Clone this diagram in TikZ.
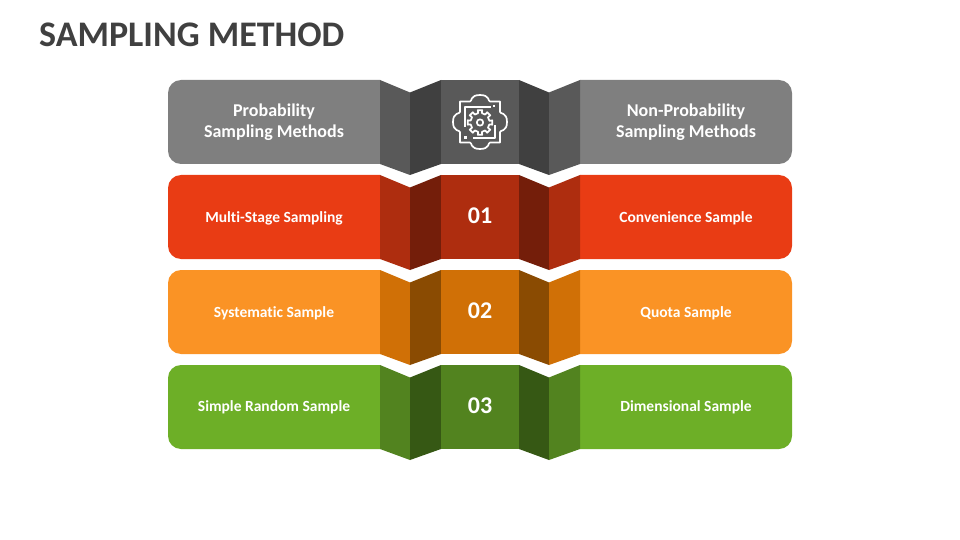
\documentclass[tikz,border=0pt]{standalone}
\usepackage{fontspec}
\setmainfont[Ligatures=NoCommon]{Carlito}
\definecolor{titlegray}{HTML}{404040}
\definecolor{grayA}{HTML}{7F7F7F}
\definecolor{grayB}{HTML}{595959}
\definecolor{grayC}{HTML}{404040}
\definecolor{redA}{HTML}{E93C14}
\definecolor{redB}{HTML}{AE2D0F}
\definecolor{redC}{HTML}{741E0A}
\definecolor{orangeA}{HTML}{FA9325}
\definecolor{orangeB}{HTML}{D07006}
\definecolor{orangeC}{HTML}{8A4B02}
\definecolor{greenA}{HTML}{6DAF27}
\definecolor{greenB}{HTML}{52831F}
\definecolor{greenC}{HTML}{365814}
\tikzset{
  headtext/.style={text=white,font=\bfseries\fontsize{18}{21}\selectfont,align=center},
  rowtext/.style={text=white,font=\bfseries\fontsize{15.5}{18}\selectfont},
  numtext/.style={text=white,font=\bfseries\fontsize{24}{28}\selectfont},
  iconline/.style={draw=white,line width=1.7pt,line join=round}
}
\begin{document}
\begin{tikzpicture}[x=1pt,y=-1pt]
  \useasboundingbox (0,0) rectangle (960,540);
  \node[anchor=west,inner sep=0pt,text=titlegray,font=\bfseries\fontsize{36}{42}\selectfont] (title) at (39,35) {SAMPLING METHOD};
  % one folded band per row
  \foreach \t/\base in {80/gray,175/red,270/orange,365/green} {
    \pgfmathsetmacro{\b}{\t+84}
    \pgfmathsetmacro{\tm}{\t+12.5}
    \pgfmathsetmacro{\bm}{\b+11}
    \fill[\base A] (380,\t) [rounded corners=13pt] -- (168,\t) -- (168,\b) [sharp corners] -- (380,\b) -- cycle;
    \fill[\base A] (580,\t) [rounded corners=13pt] -- (792,\t) -- (792,\b) [sharp corners] -- (580,\b) -- cycle;
    \fill[\base B] (380,\t) -- (410,\tm) -- (410,\bm) -- (380,\b) -- cycle;
    \fill[\base C] (410,\tm) -- (441,\t) -- (441,\b) -- (410,\bm) -- cycle;
    \fill[\base B] (441,\t) rectangle (519,\b);
    \fill[\base C] (519,\t) -- (549,\tm) -- (549,\bm) -- (519,\b) -- cycle;
    \fill[\base B] (549,\tm) -- (580,\t) -- (580,\b) -- (549,\bm) -- cycle;
  }
  % labels
  \node[headtext] (probhead) at (274,122) {Probability\\Sampling Methods};
  \node[headtext] (nonhead) at (686,122) {Non-Probability\\Sampling Methods};
  \node[rowtext] (left1) at (274,218) {Multi-Stage Sampling};
  \node[rowtext] (left2) at (274,313) {Systematic Sample};
  \node[rowtext] (left3) at (274,407) {Simple Random Sample};
  \node[rowtext] (right1) at (686,218) {Convenience Sample};
  \node[rowtext] (right2) at (686,313) {Quota Sample};
  \node[rowtext] (right3) at (686,407) {Dimensional Sample};
  \node[numtext] (num1) at (480,216) {01};
  \node[numtext] (num2) at (480,311) {02};
  \node[numtext] (num3) at (480,406) {03};
  % gear icon
  \begin{scope}[shift={(480,122)}]
    \draw[iconline] (-20,-20.5) -- (-10,-20.5)
      .. controls (-8,-20.5) and (-10,-27) .. (0,-27)
      .. controls (10,-27) and (8,-20.5) .. (10,-20.5) -- (20,-20.5) -- (20,-10)
      .. controls (20,-8) and (27,-10) .. (27,0)
      .. controls (27,10) and (20,8) .. (20,10) -- (20,20.5) -- (10,20.5)
      .. controls (8,20.5) and (10,27) .. (0,27)
      .. controls (-10,27) and (-8,20.5) .. (-10,20.5) -- (-20,20.5) -- (-20,10)
      .. controls (-20,8) and (-27,10) .. (-27,0)
      .. controls (-27,-10) and (-20,-8) .. (-20,-10) -- cycle;
    \draw[iconline] (-15,5) -- (-15,-15) -- (11,-15);
    \draw[iconline] (15,3) -- (15,16) -- (-7,16);
    \fill[white] (12.5,-17) rectangle (15,-14.5);
    \fill[white] (-16,14.5) rectangle (-13.5,17);
    \begin{scope}[shift={(0,0.5)}]
      \draw[iconline] (-10:9.5)
        \foreach \a in {0,45,...,315} {
          -- ({\a-10}:12.5) -- ({\a+10}:12.5) -- ({\a+12}:9.5) -- ({\a+33}:9.5)
        } -- cycle;
      \draw[iconline] (0,0) circle[radius=3.2];
    \end{scope}
  \end{scope}
\end{tikzpicture}
\end{document}
